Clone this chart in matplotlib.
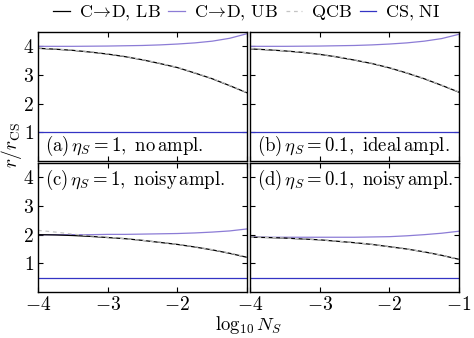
import matplotlib
matplotlib.use("Agg")
import matplotlib.pyplot as plt
from matplotlib.lines import Line2D

plt.rcParams["mathtext.fontset"] = "cm"
plt.rcParams["font.family"] = ["DejaVu Serif"]

# log10 N_S grid
log_ns = [-4.0, -3.75, -3.5, -3.25, -3.0, -2.75, -2.5, -2.25, -2.0, -1.75, -1.5, -1.25, -1.0]

# (a) eta_S = 1, no amplifier
a_lb = [3.93, 3.90, 3.86, 3.80, 3.73, 3.64, 3.53, 3.40, 3.26, 3.07, 2.87, 2.63, 2.38]
a_ub = [4.00, 4.00, 4.00, 4.005, 4.01, 4.02, 4.03, 4.05, 4.08, 4.12, 4.18, 4.28, 4.44]
a_qcb = [3.94, 3.91, 3.87, 3.81, 3.74, 3.65, 3.54, 3.41, 3.27, 3.08, 2.88, 2.64, 2.39]
a_cs = [1.0] * 13

# (b) eta_S = 0.1, ideal amplifier
b_lb = [3.91, 3.88, 3.84, 3.79, 3.72, 3.63, 3.52, 3.40, 3.25, 3.07, 2.87, 2.64, 2.40]
b_ub = [4.00, 4.00, 4.00, 4.005, 4.01, 4.02, 4.03, 4.05, 4.08, 4.12, 4.18, 4.27, 4.42]
b_qcb = [3.92, 3.89, 3.85, 3.80, 3.73, 3.64, 3.53, 3.41, 3.26, 3.08, 2.88, 2.65, 2.41]
b_cs = [1.0] * 13

# (c) eta_S = 1, noisy amplifier
c_lb = [2.00, 1.99, 1.97, 1.94, 1.90, 1.86, 1.80, 1.73, 1.66, 1.57, 1.47, 1.35, 1.21]
c_ub = [2.00, 2.00, 2.00, 2.00, 2.01, 2.01, 2.02, 2.03, 2.04, 2.06, 2.09, 2.13, 2.20]
c_qcb = [2.15, 2.09, 2.02, 1.96, 1.91, 1.86, 1.80, 1.74, 1.66, 1.58, 1.48, 1.36, 1.22]
c_cs = [0.5] * 13

# (d) eta_S = 0.1, noisy amplifier
d_lb = [1.91, 1.90, 1.88, 1.85, 1.82, 1.77, 1.72, 1.66, 1.58, 1.50, 1.40, 1.28, 1.14]
d_ub = [1.92, 1.91, 1.91, 1.91, 1.91, 1.91, 1.91, 1.92, 1.93, 1.96, 2.00, 2.05, 2.12]
d_qcb = [1.915, 1.905, 1.885, 1.855, 1.825, 1.775, 1.725, 1.665, 1.585, 1.505, 1.405, 1.285, 1.145]
d_cs = [0.5] * 13

panel_labels = [
    r"$\mathrm{(a)}\,\eta_S=1,\ \mathrm{no\,ampl.}$",
    r"$\mathrm{(b)}\,\eta_S=0.1,\ \mathrm{ideal\,ampl.}$",
    r"$\mathrm{(c)}\,\eta_S=1,\ \mathrm{noisy\,ampl.}$",
    r"$\mathrm{(d)}\,\eta_S=0.1,\ \mathrm{noisy\,ampl.}$",
]
series = [
    (a_lb, a_ub, a_qcb, a_cs),
    (b_lb, b_ub, b_qcb, b_cs),
    (c_lb, c_ub, c_qcb, c_cs),
    (d_lb, d_ub, d_qcb, d_cs),
]
legend_labels = [
    r"$\mathrm{C\!\rightarrow\!D,\,LB}$",
    r"$\mathrm{C\!\rightarrow\!D,\,UB}$",
    r"$\mathrm{QCB}$",
    r"$\mathrm{CS,\,NI}$",
]
x_ticks = [-4, -3, -2, -1]
y_ticks = [1, 2, 3, 4]

col_lb = "black"
col_ub = "#8c7cd6"
col_qcb = "#c4c4c4"
col_cs = "#3434c4"
lw = 0.9

W, H = 474, 338
fig = plt.figure(figsize=(W / 100, H / 100), dpi=100)

lefts = [38, 250]
width = 209
rows = [(32, 161), (163, 292)]

axes = []
for r, (top, bot) in enumerate(rows):
    for c, left in enumerate(lefts):
        ax = fig.add_axes([left / W, 1 - bot / H, width / W, (bot - top) / H])
        axes.append((r, c, ax))

for i, (r, c, ax) in enumerate(axes):
    lb, ub, qcb, cs = series[i]
    ax.plot(log_ns, cs, color=col_cs, lw=lw)
    ax.plot(log_ns, ub, color=col_ub, lw=lw)
    ax.plot(log_ns, lb, color=col_lb, lw=lw)
    ax.plot(log_ns, qcb, color=col_qcb, lw=lw, dashes=(3, 3))
    ax.set_xlim(-4, -1)
    ax.set_ylim(0, 4.5)
    ax.set_xticks(x_ticks)
    ax.set_yticks(y_ticks)
    ax.tick_params(direction="in", top=True, right=True, length=3.5, width=0.8,
                   labelsize=14, pad=3)
    for s in ax.spines.values():
        s.set_linewidth(1.0)
    if r == 1:
        if c == 0:
            ax.set_xticklabels([r"$-4$", r"$-3$", r"$-2$", ""])
        else:
            ax.set_xticklabels([r"$-4$", r"$-3$", r"$-2$", r"$-1$"])
    else:
        ax.set_xticklabels([])
    if c == 0:
        ax.set_yticklabels([r"$%d$" % v for v in y_ticks])
    else:
        ax.set_yticklabels([])
    if r == 0:
        ax.text(0.033, 0.075, panel_labels[i], transform=ax.transAxes,
                fontsize=13.5, ha="left", va="baseline")
    else:
        ax.text(0.033, 0.83, panel_labels[i], transform=ax.transAxes,
                fontsize=13.5, ha="left", va="baseline")

fig.text(12 / W, 1 - 145 / H, r"$r/r_{\rm CS}$", rotation=90, fontsize=14,
         ha="center", va="center")
fig.text(249 / W, 1 - 325 / H, r"$\log_{10}N_S$", fontsize=13.5,
         ha="center", va="center")

handles = [
    Line2D([], [], color=col_lb, lw=lw),
    Line2D([], [], color=col_ub, lw=lw),
    Line2D([], [], color=col_qcb, lw=lw, dashes=(3, 3)),
    Line2D([], [], color=col_cs, lw=lw),
]
fig.legend(handles, legend_labels, loc="center", bbox_to_anchor=(247 / W, 1 - 13 / H),
           ncol=4, frameon=False, fontsize=13, handlelength=0.9,
           handletextpad=0.5, columnspacing=0.45, borderaxespad=0, borderpad=0)

fig.savefig("out.png", dpi=100)
